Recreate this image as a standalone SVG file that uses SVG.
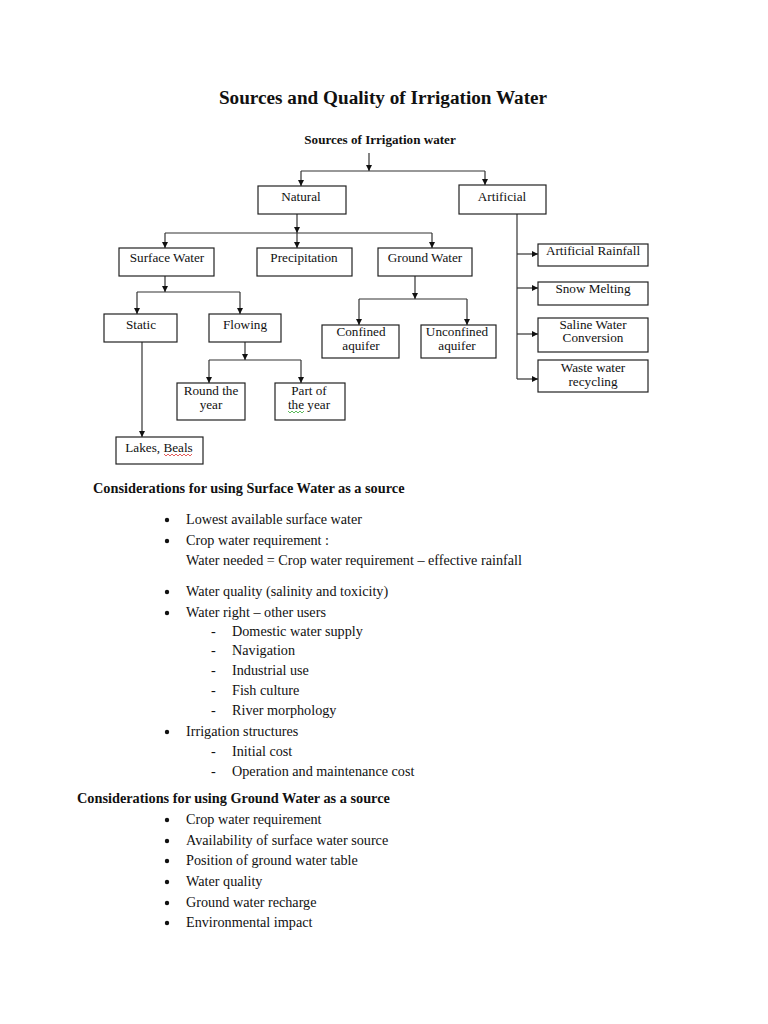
<svg xmlns="http://www.w3.org/2000/svg" width="768" height="1024" viewBox="0 0 768 1024">
<style>
text{font-family:"Liberation Serif","Times New Roman",serif;fill:#111}
.box{fill:#fff;stroke:#222;stroke-width:1.2}
.lbl{font-size:13.2px;text-anchor:middle}
.con{fill:none;stroke:#333;stroke-width:1.2}
.body{font-size:14.2px}
.hd{font-size:14.3px;font-weight:bold}
.bul{fill:#111}
</style>
<defs>
<marker id="arr" viewBox="0 0 10 10" refX="10" refY="5" markerWidth="6" markerHeight="6" markerUnits="userSpaceOnUse" orient="auto">
<path d="M0,0 L10,5 L0,10 z" fill="#111"/>
</marker>
</defs>
<rect width="768" height="1024" fill="#fff"/>
<text x="383" y="104" style="font-size:19.2px;font-weight:bold" text-anchor="middle">Sources and Quality of Irrigation Water</text>
<text x="380" y="144" style="font-size:13.1px;font-weight:bold" text-anchor="middle">Sources of Irrigation water</text>

<g id="connectors">
<line class="con" x1="369" y1="153" x2="369" y2="171" marker-end="url(#arr)"/>
<line class="con" x1="301" y1="171" x2="485" y2="171"/>
<line class="con" x1="301" y1="171" x2="301" y2="186" marker-end="url(#arr)"/>
<line class="con" x1="485" y1="171" x2="485" y2="185" marker-end="url(#arr)"/>

<line class="con" x1="297" y1="214" x2="297" y2="233" marker-end="url(#arr)"/>
<line class="con" x1="165" y1="233" x2="432" y2="233"/>
<line class="con" x1="165" y1="233" x2="165" y2="248" marker-end="url(#arr)"/>
<line class="con" x1="297" y1="233" x2="297" y2="248" marker-end="url(#arr)"/>
<line class="con" x1="432" y1="233" x2="432" y2="248" marker-end="url(#arr)"/>

<line class="con" x1="517" y1="214" x2="517" y2="379"/>
<line class="con" x1="517" y1="254" x2="538" y2="254" marker-end="url(#arr)"/>
<line class="con" x1="517" y1="288" x2="538" y2="288" marker-end="url(#arr)"/>
<line class="con" x1="517" y1="334" x2="538" y2="334" marker-end="url(#arr)"/>
<line class="con" x1="517" y1="379" x2="538" y2="379" marker-end="url(#arr)"/>

<line class="con" x1="165" y1="276" x2="165" y2="292" marker-end="url(#arr)"/>
<line class="con" x1="137" y1="292" x2="240" y2="292"/>
<line class="con" x1="137" y1="292" x2="137" y2="314" marker-end="url(#arr)"/>
<line class="con" x1="240" y1="292" x2="240" y2="314" marker-end="url(#arr)"/>

<line class="con" x1="142" y1="342" x2="142" y2="437" marker-end="url(#arr)"/>

<line class="con" x1="245" y1="342" x2="245" y2="360" marker-end="url(#arr)"/>
<line class="con" x1="209" y1="360" x2="301" y2="360"/>
<line class="con" x1="209" y1="360" x2="209" y2="383" marker-end="url(#arr)"/>
<line class="con" x1="301" y1="360" x2="301" y2="383" marker-end="url(#arr)"/>

<line class="con" x1="415" y1="276" x2="415" y2="299" marker-end="url(#arr)"/>
<line class="con" x1="359" y1="299" x2="467" y2="299"/>
<line class="con" x1="359" y1="299" x2="359" y2="325" marker-end="url(#arr)"/>
<line class="con" x1="467" y1="299" x2="467" y2="325" marker-end="url(#arr)"/>
</g>

<g id="natural"><rect class="box" x="258" y="186" width="88" height="28"/><text class="lbl" x="301" y="201">Natural</text></g>
<g id="artificial"><rect class="box" x="459" y="185" width="87" height="29"/><text class="lbl" x="502" y="201">Artificial</text></g>
<g id="surface-water"><rect class="box" x="119" y="248" width="95" height="28"/><text class="lbl" x="167" y="262">Surface Water</text></g>
<g id="precipitation"><rect class="box" x="257" y="248" width="95" height="28"/><text class="lbl" x="304" y="262">Precipitation</text></g>
<g id="ground-water"><rect class="box" x="378" y="248" width="94" height="28"/><text class="lbl" x="425" y="262">Ground Water</text></g>
<g id="static"><rect class="box" x="104" y="314" width="73" height="28"/><text class="lbl" x="141" y="329">Static</text></g>
<g id="flowing"><rect class="box" x="209" y="314" width="72" height="28"/><text class="lbl" x="245" y="329">Flowing</text></g>
<g id="lakes-beals"><rect class="box" x="116" y="437" width="87" height="27"/><text class="lbl" x="159" y="452">Lakes, Beals</text>
<polyline points="164,454 166,456 168,454 170,456 172,454 174,456 176,454 178,456 180,454 182,456 184,454 186,456 188,454 190,456 192,454" fill="none" stroke="#d33" stroke-width="0.8"/></g>
<g id="round-the-year"><rect class="box" x="177" y="383" width="68" height="37"/><text class="lbl" x="211" y="395">Round the</text><text class="lbl" x="211" y="409">year</text></g>
<g id="part-of-the-year"><rect class="box" x="275" y="383" width="70" height="37"/><text class="lbl" x="309" y="395">Part of</text><text class="lbl" x="309" y="409">the year</text>
<polyline points="288,411 290,413 292,411 294,413 296,411 298,413 300,411 302,413 304,411" fill="none" stroke="#3a3" stroke-width="0.8"/></g>
<g id="confined-aquifer"><rect class="box" x="322" y="325" width="77" height="33"/><text class="lbl" x="361" y="336">Confined</text><text class="lbl" x="361" y="350">aquifer</text></g>
<g id="unconfined-aquifer"><rect class="box" x="421" y="325" width="75" height="33"/><text class="lbl" x="457" y="336">Unconfined</text><text class="lbl" x="457" y="350">aquifer</text></g>
<g id="artificial-rainfall"><rect class="box" x="538" y="244" width="110" height="22"/><text class="lbl" x="593" y="255">Artificial Rainfall</text></g>
<g id="snow-melting"><rect class="box" x="538" y="282" width="110" height="23"/><text class="lbl" x="593" y="293">Snow Melting</text></g>
<g id="saline-water"><rect class="box" x="538" y="318" width="110" height="34"/><text class="lbl" x="593" y="329">Saline Water</text><text class="lbl" x="593" y="342">Conversion</text></g>
<g id="waste-water"><rect class="box" x="538" y="360" width="110" height="32"/><text class="lbl" x="593" y="372">Waste water</text><text class="lbl" x="593" y="386">recycling</text></g>

<g id="surface-considerations">
<text class="hd" x="93" y="493">Considerations for using Surface Water as a source</text>
<circle class="bul" cx="167" cy="520" r="2.2"/><text class="body" x="186" y="524">Lowest available surface water</text>
<circle class="bul" cx="167" cy="541" r="2.2"/><text class="body" x="186" y="545">Crop water requirement :</text>
<text class="body" x="186" y="565">Water needed = Crop water requirement – effective rainfall</text>
<circle class="bul" cx="167" cy="592" r="2.2"/><text class="body" x="186" y="596">Water quality (salinity and toxicity)</text>
<circle class="bul" cx="167" cy="613" r="2.2"/><text class="body" x="186" y="617">Water right – other users</text>
<text class="body" x="211" y="636">-</text><text class="body" x="232" y="636">Domestic water supply</text>
<text class="body" x="211" y="655">-</text><text class="body" x="232" y="655">Navigation</text>
<text class="body" x="211" y="675">-</text><text class="body" x="232" y="675">Industrial use</text>
<text class="body" x="211" y="695">-</text><text class="body" x="232" y="695">Fish culture</text>
<text class="body" x="211" y="715">-</text><text class="body" x="232" y="715">River morphology</text>
<circle class="bul" cx="167" cy="732" r="2.2"/><text class="body" x="186" y="736">Irrigation structures</text>
<text class="body" x="211" y="756">-</text><text class="body" x="232" y="756">Initial cost</text>
<text class="body" x="211" y="776">-</text><text class="body" x="232" y="776">Operation and maintenance cost</text>
</g>
<g id="ground-considerations">
<text class="hd" x="77" y="803">Considerations for using Ground Water as a source</text>
<circle class="bul" cx="167" cy="820" r="2.2"/><text class="body" x="186" y="824">Crop water requirement</text>
<circle class="bul" cx="167" cy="841" r="2.2"/><text class="body" x="186" y="845">Availability of surface water source</text>
<circle class="bul" cx="167" cy="861" r="2.2"/><text class="body" x="186" y="865">Position of ground water table</text>
<circle class="bul" cx="167" cy="882" r="2.2"/><text class="body" x="186" y="886">Water quality</text>
<circle class="bul" cx="167" cy="903" r="2.2"/><text class="body" x="186" y="907">Ground water recharge</text>
<circle class="bul" cx="167" cy="923" r="2.2"/><text class="body" x="186" y="927">Environmental impact</text>
</g>
</svg>
